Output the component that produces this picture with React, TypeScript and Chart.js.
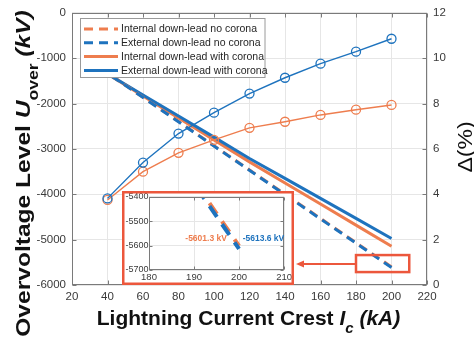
import React, { useEffect, useRef } from "react";
import { Chart, registerables } from "chart.js";

Chart.register(...registerables);

// ---------------- data ----------------
const currentKA = [40, 60, 80, 100, 120, 140, 160, 180, 200];
const endpointKA = [40, 200];
const internalNoCorona = [-1325, -5601.3];
const externalNoCorona = [-1330, -5613.6];
const internalWithCorona = [-1345, -1830, -2315, -2800, -3285, -3750, -4215, -4680, -5145];
const externalWithCorona = [-1345, -1810, -2275, -2740, -3210, -3650, -4090, -4530, -4975];
const deltaInternal = [3.75, 5.0, 5.83, 6.4, 6.93, 7.2, 7.5, 7.73, 7.94];
const deltaExternal = [3.82, 5.4, 6.68, 7.6, 8.44, 9.14, 9.76, 10.29, 10.86];
const seriesLabels = [
  "Internal down-lead no corona",
  "External down-lead no corona",
  "Internal down-lead with corona",
  "External down-lead with corona",
];
const insetLabels = ["-5601.3 kV", "-5613.6 kV"];
const insetLabelKA = [197.3, 200.8];
const insetLabelKV = [-5572, -5572];
const zoomBoxKA = [180, 210];
const zoomBoxKV = [-5340, -5715];
const arrowKV = -5538;

// ---------------- styles ----------------
const ORANGE = "#EE7D4E";
const BLUE = "#1E73BE";
const RED = "#EC573C";
const AXIS = "#7a7a7a";
const GRID = "#e6e6e6";
const TICKTXT = "#3a3a3a";
const FAM = '"Liberation Sans", Arial, Helvetica, sans-serif';

const INSET = { left: 122, top: 191, width: 172, height: 94 };

const plain = (v: any) => String(v);

function pts(xs: number[], ys: number[]) {
  return xs.map((x, i) => ({ x, y: ys[i] }));
}
// dashed lines are traced from the 200 kA end so the dash pattern is anchored there
function ptsFromEnd(xs: number[], ys: number[]) {
  return pts(xs, ys).reverse();
}

type Part = { text: string; font: string; dy?: number };
function richText(
  ctx: CanvasRenderingContext2D,
  parts: Part[],
  cx: number,
  cy: number,
  rot: number,
  color: string,
  stretch = 1
) {
  ctx.save();
  ctx.translate(cx, cy);
  ctx.rotate(rot);
  ctx.scale(stretch, 1);
  ctx.fillStyle = color;
  ctx.textAlign = "left";
  ctx.textBaseline = "alphabetic";
  let total = 0;
  for (const p of parts) {
    ctx.font = p.font;
    total += ctx.measureText(p.text).width;
  }
  let x = -total / 2;
  for (const p of parts) {
    ctx.font = p.font;
    ctx.fillText(p.text, x, p.dy || 0);
    x += ctx.measureText(p.text).width;
  }
  ctx.restore();
}

function drawBoxAndTicks(chart: any, yIds: string[], tickLen: number) {
  const { ctx, chartArea: a, scales } = chart;
  ctx.save();
  ctx.strokeStyle = AXIS;
  ctx.lineWidth = 1;
  const L = Math.round(a.left) + 0.5;
  const R = Math.round(a.right) - 0.5;
  const T = Math.round(a.top) + 0.5;
  const B = Math.round(a.bottom) - 0.5;
  ctx.strokeRect(L, T, R - L, B - T);
  ctx.beginPath();
  const xs = scales.x;
  for (const t of xs.ticks) {
    const px = Math.round(xs.getPixelForValue(t.value)) + 0.5;
    ctx.moveTo(px, B);
    ctx.lineTo(px, B - tickLen);
    ctx.moveTo(px, T);
    ctx.lineTo(px, T + tickLen);
  }
  yIds.forEach((id, k) => {
    const s = scales[id];
    for (const t of s.ticks) {
      const py = Math.round(s.getPixelForValue(t.value)) + 0.5;
      if (k === 0) {
        ctx.moveTo(L, py);
        ctx.lineTo(L + tickLen, py);
        if (yIds.length === 1) {
          ctx.moveTo(R, py);
          ctx.lineTo(R - tickLen, py);
        }
      } else {
        ctx.moveTo(R, py);
        ctx.lineTo(R - tickLen, py);
      }
    }
  });
  ctx.stroke();
  ctx.restore();
}

const mainDecor = {
  id: "mainDecor",
  afterDraw(chart: any) {
    const { ctx, scales } = chart;
    drawBoxAndTicks(chart, ["y", "y1"], 4);
    const x = scales.x;
    const y = scales.y;

    ctx.save();
    // zoom rectangle
    const rx0 = x.getPixelForValue(zoomBoxKA[0]);
    const rx1 = x.getPixelForValue(zoomBoxKA[1]);
    const ry0 = y.getPixelForValue(zoomBoxKV[0]);
    const ry1 = y.getPixelForValue(zoomBoxKV[1]);
    ctx.strokeStyle = RED;
    ctx.lineWidth = 2.5;
    ctx.strokeRect(rx0, ry0, rx1 - rx0, ry1 - ry0);
    // arrow
    const ay = y.getPixelForValue(arrowKV);
    const tip = INSET.left + INSET.width + 2;
    ctx.lineWidth = 2;
    ctx.beginPath();
    ctx.moveTo(rx0, ay);
    ctx.lineTo(tip + 6, ay);
    ctx.stroke();
    ctx.fillStyle = RED;
    ctx.beginPath();
    ctx.moveTo(tip, ay);
    ctx.lineTo(tip + 8, ay - 3.5);
    ctx.lineTo(tip + 8, ay + 3.5);
    ctx.closePath();
    ctx.fill();

    // legend
    const lx = 80.5, ly = 18.5, lw = 184.5, lh = 59;
    ctx.fillStyle = "#ffffff";
    ctx.fillRect(lx, ly, lw, lh);
    ctx.strokeStyle = "#9a9a9a";
    ctx.lineWidth = 1;
    ctx.strokeRect(lx, ly, lw, lh);
    const ds = chart.data.datasets;
    for (let i = 0; i < 4; i++) {
      const d = ds[i];
      const yy = 29 + i * 13.8;
      ctx.strokeStyle = d.borderColor;
      ctx.lineWidth = d.borderWidth;
      ctx.setLineDash(d.borderDash || []);
      ctx.beginPath();
      ctx.moveTo(84, yy);
      ctx.lineTo(118, yy);
      ctx.stroke();
      ctx.setLineDash([]);
      ctx.fillStyle = "#262626";
      ctx.font = `10.5px ${FAM}`;
      ctx.textBaseline = "middle";
      ctx.textAlign = "left";
      ctx.fillText(d.label, 121, yy + 0.5);
    }
    ctx.restore();

    // axis titles
    const B21 = `bold 21px ${FAM}`;
    const BI21 = `italic bold 21px ${FAM}`;
    const BI15 = `italic bold 15px ${FAM}`;
    const B15 = `bold 15px ${FAM}`;
    richText(
      ctx,
      [
        { text: "Overvoltage Level ", font: B21 },
        { text: "U", font: BI21 },
        { text: "over", font: B15, dy: 8 },
        { text: " (kV)", font: BI21 },
      ],
      30,
      173.5,
      -Math.PI / 2,
      "#111",
      1.17
    );
    richText(
      ctx,
      [
        { text: "Lightning Current Crest ", font: B21 },
        { text: "I", font: BI21 },
        { text: "c", font: BI15, dy: 8 },
        { text: " (kA)", font: BI21 },
      ],
      248.5,
      325,
      0,
      "#111"
    );
    richText(ctx, [{ text: "\u0394(%)", font: `20px ${FAM}` }], 472, 147, -Math.PI / 2, "#111", 1.15);
  },
};

const insetDecor = {
  id: "insetDecor",
  afterDraw(chart: any) {
    const { ctx, scales, width, height } = chart;
    drawBoxAndTicks(chart, ["y"], 3);
    ctx.save();
    ctx.font = `bold 8.5px ${FAM}`;
    ctx.textBaseline = "middle";
    insetLabels.forEach((t, i) => {
      ctx.fillStyle = i === 0 ? ORANGE : BLUE;
      ctx.textAlign = i === 0 ? "right" : "left";
      ctx.fillText(t, scales.x.getPixelForValue(insetLabelKA[i]), scales.y.getPixelForValue(insetLabelKV[i]));
    });
    ctx.strokeStyle = RED;
    ctx.lineWidth = 2.5;
    ctx.strokeRect(1.25, 1.25, width - 2.5, height - 2.5);
    ctx.restore();
  },
};

function lineSets(wide: boolean) {
  const w = wide ? 4 : 3;
  const dash = wide ? [13, 9] : [9, 6];
  const dashOffset = wide ? 5 : 0;
  return [
    {
      label: seriesLabels[0],
      data: ptsFromEnd(endpointKA, internalNoCorona),
      borderColor: ORANGE,
      borderWidth: w,
      borderDash: dash,
      borderDashOffset: dashOffset,
      pointRadius: 0,
      yAxisID: "y",
      order: 3,
    },
    {
      label: seriesLabels[1],
      data: ptsFromEnd(endpointKA, externalNoCorona),
      borderColor: BLUE,
      borderWidth: w,
      borderDash: dash,
      borderDashOffset: dashOffset,
      pointRadius: 0,
      yAxisID: "y",
      order: 2,
    },
    {
      label: seriesLabels[2],
      data: pts(currentKA, internalWithCorona),
      borderColor: ORANGE,
      borderWidth: w,
      pointRadius: 0,
      yAxisID: "y",
      order: 5,
    },
    {
      label: seriesLabels[3],
      data: pts(currentKA, externalWithCorona),
      borderColor: BLUE,
      borderWidth: w,
      pointRadius: 0,
      yAxisID: "y",
      order: 4,
    },
  ];
}

export default function App() {
  const mainRef = useRef<HTMLCanvasElement>(null);
  const insetRef = useRef<HTMLCanvasElement>(null);

  useEffect(() => {
    const tickFont = { family: FAM, size: 11.5 };
    const main = new Chart(mainRef.current!, {
      type: "line",
      data: {
        datasets: [
          ...lineSets(false),
          {
            label: "Delta internal",
            data: pts(currentKA, deltaInternal),
            borderColor: ORANGE,
            borderWidth: 1.4,
            pointRadius: 4.5,
            pointBorderWidth: 1.3,
            pointBorderColor: ORANGE,
            pointBackgroundColor: "rgba(0,0,0,0)",
            yAxisID: "y1",
            order: 1,
          },
          {
            label: "Delta external",
            data: pts(currentKA, deltaExternal),
            borderColor: BLUE,
            borderWidth: 1.4,
            pointRadius: 4.5,
            pointBorderWidth: 1.3,
            pointBorderColor: BLUE,
            pointBackgroundColor: "rgba(0,0,0,0)",
            yAxisID: "y1",
            order: 0,
          },
        ] as any,
      },
      options: {
        animation: false,
        responsive: false,
        devicePixelRatio: 1,
        layout: { padding: { left: 24, right: 10, top: 12, bottom: 40 } },
        elements: { line: { tension: 0 } },
        plugins: { legend: { display: false }, tooltip: { enabled: false } },
        scales: {
          x: {
            type: "linear",
            min: 20,
            max: 220,
            ticks: { stepSize: 20, font: tickFont, color: TICKTXT, padding: 5, maxRotation: 0, autoSkip: false, callback: plain },
            grid: { color: GRID, drawTicks: false },
            border: { display: false },
            afterFit: (s: any) => {
              s.height = 26;
            },
          },
          y: {
            type: "linear",
            position: "left",
            min: -6000,
            max: 0,
            ticks: { stepSize: 1000, font: tickFont, color: TICKTXT, padding: 6, callback: plain },
            grid: { color: GRID, drawTicks: false },
            border: { display: false },
            afterFit: (s: any) => {
              s.width = 48;
            },
          },
          y1: {
            type: "linear",
            position: "right",
            min: 0,
            max: 12,
            ticks: { stepSize: 2, font: tickFont, color: TICKTXT, padding: 6, callback: plain },
            grid: { drawOnChartArea: false, drawTicks: false },
            border: { display: false },
            afterFit: (s: any) => {
              s.width = 37;
            },
          },
        },
      } as any,
      plugins: [mainDecor],
    });

    const insetFont = { family: FAM, size: 9 };
    const inset = new Chart(insetRef.current!, {
      type: "line",
      data: { datasets: lineSets(true) as any },
      options: {
        animation: false,
        responsive: false,
        devicePixelRatio: 1,
        layout: { padding: { left: 0, right: 9, top: 5, bottom: 2 } },
        elements: { line: { tension: 0 } },
        plugins: { legend: { display: false }, tooltip: { enabled: false } },
        scales: {
          x: {
            type: "linear",
            min: 180,
            max: 210,
            ticks: { stepSize: 10, font: { family: FAM, size: 9.5 }, color: TICKTXT, padding: 2, maxRotation: 0, autoSkip: false, callback: plain },
            grid: { color: GRID, drawTicks: false },
            border: { display: false },
            afterFit: (s: any) => {
              s.height = 13;
            },
          },
          y: {
            type: "linear",
            min: -5700,
            max: -5400,
            ticks: { stepSize: 100, font: insetFont, color: TICKTXT, padding: 0.5, callback: plain },
            grid: { color: GRID, drawTicks: false },
            border: { display: false },
            afterFit: (s: any) => {
              s.width = 27;
            },
          },
        },
      } as any,
      plugins: [insetDecor],
    });

    return () => {
      main.destroy();
      inset.destroy();
    };
  }, []);

  return (
    <div style={{ position: "absolute", left: 0, top: 0, width: 474, height: 351, background: "#fff" }}>
      <canvas ref={mainRef} width={474} height={351} style={{ display: "block", width: 474, height: 351 }} />
      <canvas
        ref={insetRef}
        width={INSET.width}
        height={INSET.height}
        style={{
          position: "absolute",
          left: INSET.left,
          top: INSET.top,
          width: INSET.width,
          height: INSET.height,
          background: "#fff",
        }}
      />
    </div>
  );
}
